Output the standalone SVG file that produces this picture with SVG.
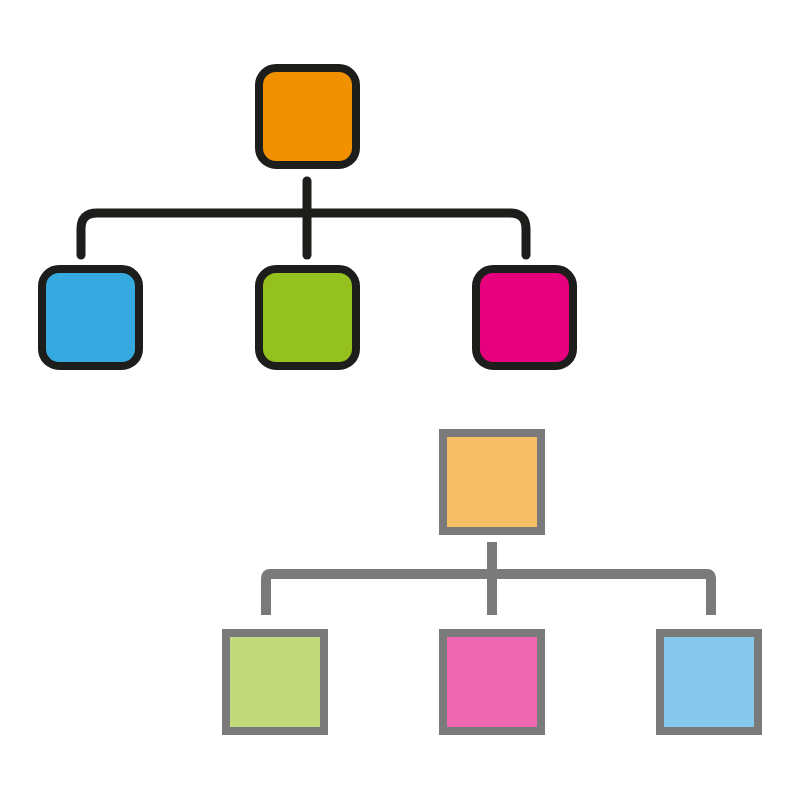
<svg xmlns="http://www.w3.org/2000/svg" width="800" height="800" viewBox="0 0 800 800">
<style>
.dk{stroke:#1D1D1B;stroke-width:8;}
.gy{stroke:#7A7A7A;stroke-width:8;}
.dline{fill:none;stroke:#1D1D1B;stroke-width:9;stroke-linecap:round;stroke-linejoin:round;}
.gline{fill:none;stroke:#7A7A7A;stroke-width:10;stroke-linecap:butt;stroke-linejoin:round;}
</style>
<rect width="800" height="800" fill="#FFFFFF"/>
<g id="connectors">
<path class="dline" d="M307,181 V255"/>
<path class="dline" d="M81,255 V229 Q81,213 97,213 H510 Q526,213 526,229 V255"/>
<path class="gline" d="M492,542 V615"/>
<path class="gline" d="M266,615 V578 Q266,574 270,574 H707 Q711,574 711,578 V615"/>
</g>
<g id="top-root"><rect class="dk" x="259" y="68" width="97" height="97" rx="17" fill="#F29100"/></g>
<g id="top-blue"><rect class="dk" x="42" y="269" width="97" height="97" rx="17" fill="#36A9E1"/></g>
<g id="top-green"><rect class="dk" x="259" y="269" width="97" height="97" rx="17" fill="#95C11F"/></g>
<g id="top-magenta"><rect class="dk" x="476" y="269" width="97" height="97" rx="17" fill="#E6007E"/></g>
<g id="bottom-root"><rect class="gy" x="443" y="433" width="98" height="98" fill="#F6BE65"/></g>
<g id="bottom-green"><rect class="gy" x="226" y="633" width="98" height="98" fill="#C2DA7C"/></g>
<g id="bottom-pink"><rect class="gy" x="443" y="633" width="98" height="98" fill="#EF67B0"/></g>
<g id="bottom-blue"><rect class="gy" x="660" y="633" width="98" height="98" fill="#86C8EC"/></g>
</svg>
